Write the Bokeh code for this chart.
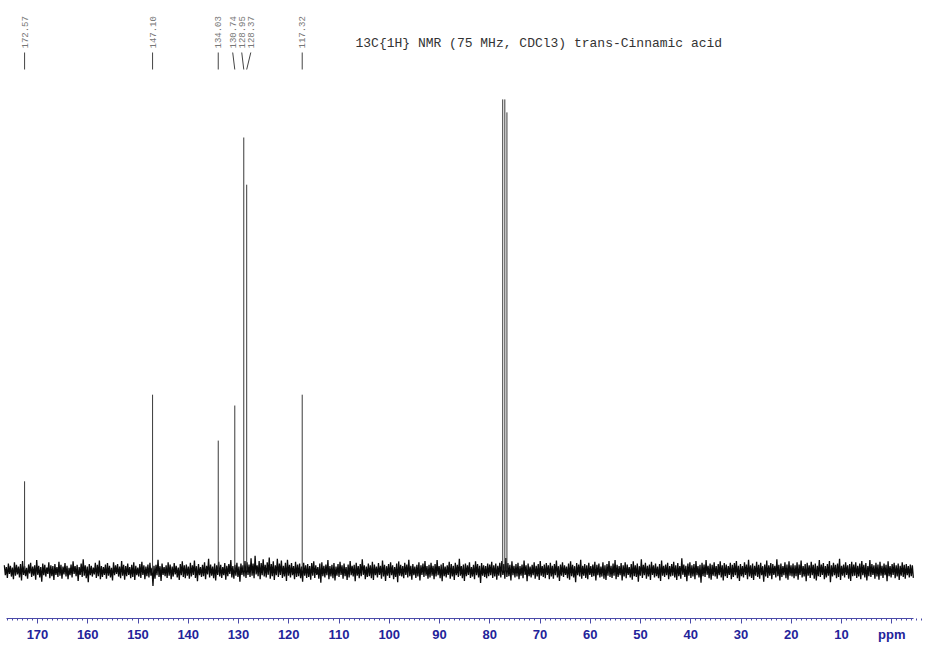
import numpy as np
from bokeh.plotting import figure
from bokeh.models import Range1d, FixedTicker, ColumnDataSource
from bokeh.core.properties import value
from bokeh.embed import file_html
from bokeh.resources import INLINE

# ---------------- data ----------------
title_text = "13C{1H} NMR (75 MHz, CDCl3) trans-Cinnamic acid"

# all peaks (ppm) and their heights (relative intensity)
peak_ppm = [172.57, 147.10, 134.03, 130.74, 128.95, 128.37, 117.32, 77.42, 77.00, 76.58]
peak_height = [20.6, 40.6, 30.0, 38.1, 100.0, 89.1, 40.6, 108.8, 108.8, 105.8]

# labelled peaks
label_ppm = [172.57, 147.10, 134.03, 130.74, 128.95, 128.37, 117.32]
label_text = ["172.57", "147.10", "134.03", "130.74", "128.95", "128.37", "117.32"]

# baseline noise (relative intensity): upper and lower excursions,
# sampled from 176.6 ppm down to -4.3 ppm
noise_hi = [
    1.2, 0.8, 1.6, 1.1, 0.7, 1.9, 1.3, 0.9, 1.5, 2.2, 1.0, 0.6, 1.4, 1.8, 0.9, 1.2, 2.4, 1.1, 0.8, 1.6, 1.3, 0.7, 1.9, 1.2, 1.0, 1.5, 0.8, 2.0, 1.3, 0.9,
    1.7, 1.1, 0.6, 1.4, 2.1, 1.0, 1.3, 0.8, 1.6, 2.6, 1.2, 0.9, 1.5, 1.1, 0.7, 1.8, 1.3, 2.3, 1.0, 0.8, 1.4, 1.7, 1.1, 0.6, 1.9, 1.2, 1.5, 0.9, 2.2, 1.3,
    1.0, 1.6, 0.8, 1.3, 1.9, 1.1, 0.7, 1.5, 2.0, 1.2, 0.9, 1.4, 1.8, 0.6, 1.1, 1.3, 2.5, 1.0, 1.6, 0.8, 1.2, 1.9, 1.4, 0.9, 1.7, 1.1, 0.7, 1.5, 2.1, 1.2,
    1.4, 0.9, 1.8, 1.2, 2.3, 1.0, 1.5, 0.8, 1.3, 1.9, 1.1, 2.7, 1.4, 0.9, 1.6, 1.2, 2.0, 1.3, 0.8, 1.7, 1.1, 1.5, 2.4, 1.0, 1.3, 1.8, 0.9, 1.6, 1.2, 2.2,
    1.9, 1.4, 2.8, 1.6, 3.4, 1.2, 2.2, 1.7, 2.6, 1.3, 1.9, 3.0, 1.5, 2.1, 1.2, 2.7, 1.6, 2.3, 1.1, 1.8, 2.5, 1.3, 1.7, 1.0, 2.0, 1.4, 1.6, 0.9, 1.8, 1.2,
    1.5, 1.0, 1.7, 2.1, 1.2, 0.8, 1.6, 1.9, 1.1, 1.4, 2.4, 1.0, 1.3, 1.7, 0.9, 1.5, 2.0, 1.2, 1.6, 0.8, 1.4, 2.2, 1.1, 1.3, 1.8, 1.0, 1.5, 2.6, 1.2, 0.9,
    1.6, 1.2, 2.0, 1.4, 0.9, 1.7, 1.1, 2.3, 1.3, 1.0, 1.5, 1.9, 1.2, 0.8, 1.6, 2.1, 1.3, 1.0, 1.8, 1.4, 2.5, 1.1, 1.5, 0.9, 1.3, 1.9, 1.2, 1.6, 2.2, 1.0,
    1.3, 1.8, 1.1, 1.5, 2.4, 1.0, 1.4, 1.7, 0.9, 1.2, 2.0, 1.5, 1.1, 1.8, 1.3, 2.7, 1.0, 1.4, 1.6, 1.2, 1.9, 0.8, 1.3, 2.1, 1.5, 1.1, 1.7, 1.2, 1.0, 1.6,
    1.4, 2.0, 1.2, 1.6, 1.1, 1.8, 2.2, 1.5, 2.9, 1.7, 1.3, 2.1, 1.1, 1.5, 1.8, 1.0, 1.4, 2.3, 1.2, 1.6, 0.9, 1.3, 1.9, 1.1, 1.5, 2.2, 1.0, 1.4, 1.7, 1.2,
    1.8, 1.1, 1.5, 2.3, 1.0, 1.4, 1.9, 1.2, 0.9, 1.6, 2.1, 1.3, 1.0, 1.7, 1.4, 2.5, 1.1, 1.5, 1.2, 1.8, 1.0, 1.4, 2.0, 1.3, 1.6, 0.9, 1.9, 1.2, 1.5, 2.2,
    1.1, 1.6, 2.4, 1.3, 1.0, 1.7, 1.2, 1.9, 1.4, 0.8, 1.5, 2.1, 1.2, 1.6, 1.0, 2.6, 1.3, 1.8, 1.1, 1.4, 2.0, 1.2, 1.6, 0.9, 1.5, 2.3, 1.1, 1.4, 1.8, 1.0,
    1.5, 2.0, 1.2, 1.7, 1.0, 2.8, 1.4, 1.1, 1.6, 1.9, 1.2, 1.5, 2.2, 1.0, 1.3, 1.8, 1.4, 2.4, 1.1, 1.6, 1.3, 1.9, 1.0, 1.5, 2.1, 1.2, 1.7, 1.4, 1.0, 1.8,
    1.3, 1.7, 2.2, 1.1, 1.5, 1.0, 1.9, 1.4, 2.5, 1.2, 1.6, 1.1, 2.0, 1.3, 1.8, 1.0, 1.4, 2.3, 1.2, 1.7, 1.5, 1.1, 2.6, 1.3, 1.6, 1.0, 1.9, 1.4, 2.1, 1.2,
    1.6, 1.2, 1.9, 1.4, 2.3, 1.0, 1.5, 1.8, 1.2, 2.0, 1.3, 1.6, 1.1, 2.4, 1.4, 1.7, 1.0, 1.5, 2.2, 1.2, 1.8, 1.3, 1.6, 2.7, 1.1, 1.4, 1.9, 1.2, 1.5, 2.0,
    1.4, 1.9, 1.1, 1.6, 2.2, 1.3, 1.7, 1.0, 2.4, 1.5, 1.2, 1.8, 1.4, 2.0, 1.1, 1.6, 1.3, 2.1, 1.0, 1.5, 1.8, 1.2, 1.6, 1.1, 1.9, 1.3, 1.5, 1.0, 1.4, 1.2,
]
noise_lo = [
    -1.1, -1.7, -0.8, -1.4, -2.0, -1.2, -0.9, -1.6, -2.3, -1.0, -1.3, -1.9, -0.7, -1.5, -1.2, -2.1, -1.0, -1.6, -2.6, -1.1, -1.4, -0.8, -1.8, -1.3, -2.2, -1.0, -1.5, -1.2, -1.9, -0.9,
    -1.4, -2.0, -1.1, -1.6, -0.8, -1.3, -2.4, -1.0, -1.5, -1.2, -1.8, -2.7, -1.1, -1.4, -0.9, -1.7, -1.3, -2.0, -1.5, -1.0, -1.9, -1.2, -1.6, -2.3, -1.1, -0.8, -1.4, -1.8, -1.2, -2.1,
    -1.3, -1.0, -1.8, -1.5, -2.2, -1.1, -1.4, -1.7, -1.0, -2.0, -1.3, -1.6, -1.2, -3.6, -1.9, -1.1, -1.5, -2.4, -1.0, -1.3, -1.7, -1.2, -2.0, -1.4, -0.9, -1.6, -2.2, -1.1, -1.5, -1.8,
    -1.2, -1.9, -1.4, -1.0, -1.7, -2.5, -1.1, -1.5, -1.3, -2.0, -0.9, -1.6, -1.2, -1.8, -2.3, -1.0, -1.4, -1.7, -1.1, -2.1, -1.3, -0.8, -1.6, -1.9, -1.2, -1.5, -2.6, -1.0, -1.4, -1.7,
    -1.0, -1.5, -1.2, -1.8, -0.9, -1.3, -2.0, -1.1, -1.4, -1.6, -1.0, -1.9, -1.3, -2.2, -1.1, -1.5, -1.0, -1.7, -1.4, -2.4, -1.2, -1.6, -1.1, -2.0, -1.5, -1.3, -1.8, -2.6, -1.2, -1.7,
    -1.5, -2.1, -1.2, -1.7, -1.0, -1.9, -2.8, -1.3, -1.6, -1.1, -2.0, -1.4, -1.8, -2.3, -1.2, -1.5, -1.0, -1.9, -1.3, -2.2, -1.6, -1.1, -1.4, -2.5, -1.2, -1.8, -1.3, -1.0, -2.0, -1.5,
    -1.3, -1.8, -2.2, -1.1, -1.6, -1.0, -1.9, -1.4, -2.4, -1.2, -1.7, -1.1, -2.0, -1.5, -2.7, -1.2, -1.4, -1.8, -1.0, -1.6, -1.3, -2.1, -1.1, -1.7, -1.4, -2.3, -1.0, -1.5, -1.2, -1.9,
    -1.6, -1.2, -2.0, -1.4, -1.1, -1.8, -2.5, -1.3, -1.6, -1.0, -1.9, -1.4, -2.2, -1.1, -1.5, -1.2, -1.8, -2.4, -1.3, -1.0, -1.7, -1.4, -2.0, -1.1, -1.6, -2.9, -1.2, -1.5, -1.8, -1.3,
    -1.1, -1.7, -1.4, -2.1, -1.2, -1.6, -1.0, -1.9, -1.5, -1.3, -2.3, -1.1, -1.6, -1.4, -2.0, -1.2, -1.8, -1.0, -2.5, -1.3, -1.6, -1.1, -1.9, -1.4, -2.2, -1.2, -1.5, -1.8, -1.0, -2.0,
    -1.4, -1.9, -1.1, -1.6, -2.4, -1.2, -1.5, -1.0, -1.8, -2.1, -1.3, -1.6, -2.7, -1.1, -1.4, -1.9, -1.2, -1.7, -2.0, -1.0, -1.5, -1.3, -2.3, -1.1, -1.6, -1.4, -1.9, -2.2, -1.2, -1.5,
    -1.7, -1.2, -2.0, -1.5, -1.1, -2.3, -1.4, -1.8, -1.0, -1.6, -2.1, -1.3, -1.5, -2.6, -1.2, -1.7, -1.1, -1.9, -1.4, -2.2, -1.0, -1.6, -1.3, -1.8, -2.4, -1.2, -1.5, -1.1, -2.0, -1.4,
    -1.2, -1.6, -2.2, -1.3, -1.9, -1.0, -1.5, -2.5, -1.2, -1.7, -1.4, -2.0, -1.1, -1.6, -2.8, -1.3, -1.5, -1.0, -1.8, -2.1, -1.2, -1.4, -1.9, -1.1, -1.6, -2.3, -1.3, -1.7, -1.0, -2.0,
    -1.5, -1.1, -1.8, -2.4, -1.3, -1.6, -1.0, -2.0, -1.4, -1.7, -2.2, -1.2, -1.5, -1.9, -1.1, -2.6, -1.4, -1.7, -1.2, -2.0, -1.0, -1.6, -1.3, -2.3, -1.5, -1.1, -1.8, -2.1, -1.2, -1.4,
    -1.8, -1.3, -2.1, -1.0, -1.6, -1.4, -2.5, -1.2, -1.7, -1.1, -1.9, -2.3, -1.3, -1.5, -1.0, -2.0, -1.6, -1.2, -2.7, -1.4, -1.1, -1.8, -1.5, -2.2, -1.2, -1.6, -1.0, -1.9, -2.4, -1.3,
    -1.2, -1.7, -1.4, -2.0, -1.1, -1.6, -2.3, -1.3, -1.5, -1.0, -1.9, -1.4, -2.1, -1.2, -1.7, -1.1, -2.5, -1.3, -1.6, -1.0, -1.8, -1.4, -2.2, -1.2, -1.5, -1.9, -1.1, -1.6, -1.3, -1.7,
]
noise_start_ppm, noise_end_ppm = 176.6, -4.3

major_ticks = list(range(0, 180, 10))
minor_ticks = list(range(-6, 177))

# ---------------- layout helpers ----------------
W, H = 934, 653
BOTTOM = 35
PX_PER_PPM = 5.025
PX_170 = 37.0          # x pixel of 170 ppm
PX_PER_UNIT = 4.33
BASE_Y = 570.0         # y pixel (from top) of zero intensity


def ppm_at(fx):
    return 170 - (fx - PX_170) / PX_PER_PPM


def inten_at(fy):
    return (BASE_Y - fy) / PX_PER_UNIT


def spread(vals, min_gap):
    # spread crowded labels apart, keeping each crowded group centred
    groups = [[vals[0]]]
    for v in vals[1:]:
        if groups[-1][-1] - v < min_gap:
            groups[-1].append(v)
        else:
            groups.append([v])
    out = []
    for g in groups:
        c = sum(g) / len(g)
        n = len(g)
        out += [c + (n - 1) / 2 * min_gap - k * min_gap for k in range(n)]
    return out


p = figure(width=W, height=H, output_backend="svg", toolbar_location=None,
           x_range=Range1d(ppm_at(0), ppm_at(W)),
           y_range=Range1d(inten_at(H - BOTTOM), inten_at(0)),
           min_border_left=0, min_border_right=0, min_border_top=0,
           min_border_bottom=BOTTOM)
p.outline_line_color = None
p.grid.visible = False
p.yaxis.visible = False
p.background_fill_color = "white"
p.border_fill_color = "white"

# baseline noise: trace alternates between upper and lower excursions
ny = np.empty(len(noise_hi) + len(noise_lo))
ny[0::2] = noise_hi
ny[1::2] = noise_lo
nx = np.linspace(noise_start_ppm, noise_end_ppm, len(ny))
p.line(nx, ny, line_color="#0a0a0a", line_width=1.3)

# peaks
p.segment(x0=peak_ppm, y0=[0] * len(peak_ppm), x1=peak_ppm, y1=peak_height,
          line_color="#3a3a3a", line_width=1)

# peak labels
lab_x = spread(label_ppm, 1.8)
src = ColumnDataSource(dict(lx=lab_x, px=label_ppm, t=label_text,
                            ty=[inten_at(48)] * len(lab_x),
                            y0=[inten_at(52)] * len(lab_x),
                            y1=[inten_at(69)] * len(lab_x)))
p.text(x="lx", y="ty", text="t", source=src, angle=np.pi / 2,
       text_align="left", text_baseline="middle",
       text_font=value("Liberation Mono"), text_font_size="9px",
       text_color="#777777")
p.segment(x0="lx", y0="y0", x1="px", y1="y1", source=src,
          line_color="#444444", line_width=1)

# title
p.text(x=[ppm_at(355)], y=[inten_at(43)], text=[title_text],
       text_align="left", text_baseline="middle",
       text_font=value("Liberation Mono"), text_font_size="13px",
       text_color="#333333")

# x axis
ax = p.xaxis[0]
ax.ticker = FixedTicker(ticks=major_ticks, minor_ticks=minor_ticks)
ax.major_label_overrides = {0: "ppm"}
ax.axis_line_color = "#4a4aa8"
ax.major_tick_line_color = "#4a4aa8"
ax.minor_tick_line_color = "#4a4aa8"
ax.major_tick_in = 0
ax.major_tick_out = 5
ax.minor_tick_in = 0
ax.minor_tick_out = 2
ax.major_label_standoff = 3
ax.major_label_text_font = "Liberation Sans"
ax.major_label_text_font_style = "bold"
ax.major_label_text_font_size = "13px"
ax.major_label_text_color = "#23239a"
ax.bounds = (-4.4, 176.2)

open("out.html", "w").write(file_html(p, INLINE))
